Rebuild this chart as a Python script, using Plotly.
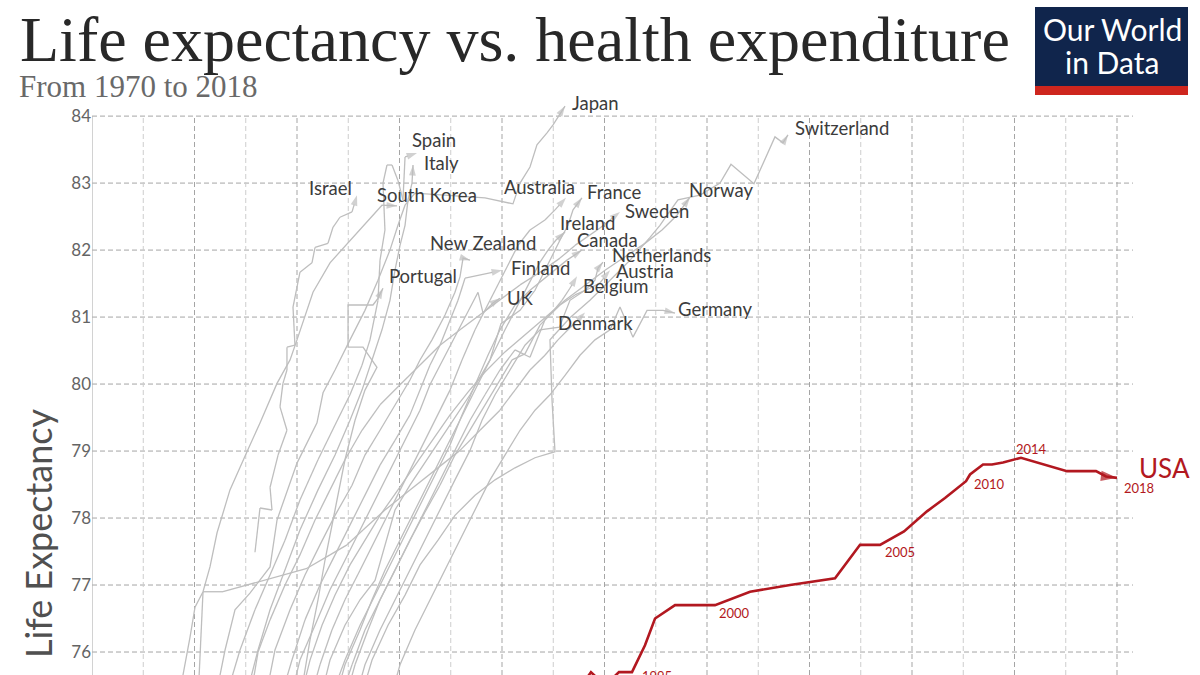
import plotly.graph_objects as go

# ---------------- DATA (health expenditure per capita, int-$; life expectancy, years) ----------------
japan_spend = [1200, 1298, 1395, 1541, 1737, 1805, 2000, 2195, 2254, 2371, 2517, 2663, 2790, 2907, 2985, 3054, 3151, 3493, 3834, 4107, 4176, 4273, 4341, 4439, 4498, 4615]
japan_le = [75.28, 76.03, 76.63, 76.88, 77.27, 77.97, 78.82, 79.42, 79.87, 80.21, 80.66, 81.10, 81.55, 82.00, 82.37, 82.67, 82.85, 82.82, 82.78, 82.69, 83.00, 83.24, 83.57, 83.75, 83.87, 84.15]

switzerland_spend = [2615, 2732, 2888, 3054, 3200, 3376, 3541, 3737, 3932, 4127, 4322, 4517, 4488, 4468, 4663, 4858, 5054, 5249, 5444, 5541, 5610, 5717, 5932, 6127, 6234, 6458, 6663, 6741, 6790]
switzerland_le = [75.28, 75.88, 76.40, 76.85, 77.30, 77.67, 78.04, 78.34, 78.57, 78.75, 78.90, 78.99, 79.76, 80.66, 80.99, 81.25, 81.55, 81.85, 82.19, 82.37, 82.52, 82.75, 82.82, 83.00, 83.28, 82.99, 83.69, 83.60, 83.72]

spain_spend = [1298, 1444, 1590, 1737, 1883, 2029, 2205, 2371, 2517, 2634, 2712, 2790, 2810, 2858, 2839, 2878, 2927, 2985, 3024, 3034, 3054, 3171]
spain_le = [75.28, 76.03, 76.63, 77.15, 77.67, 78.27, 78.87, 79.39, 79.84, 80.28, 80.66, 81.25, 81.85, 82.30, 83.00, 83.27, 83.27, 83.04, 82.79, 82.75, 83.39, 83.45]

italy_spend = [1493, 1620, 1737, 1883, 2029, 2205, 2371, 2517, 2634, 2732, 2829, 2907, 2956, 3005, 3054, 3083, 3122, 3132]
italy_le = [75.28, 76.03, 76.63, 77.22, 77.82, 78.42, 78.94, 79.46, 79.91, 80.36, 80.81, 81.25, 81.70, 82.07, 82.37, 82.75, 83.00, 83.27]

israel_spend = [1590, 1639, 1756, 1737, 1815, 1902, 1834, 1863, 1902, 1902, 1980, 1961, 2029, 2146, 2176, 2302, 2351, 2419, 2537, 2585]
israel_le = [77.49, 78.15, 78.12, 78.46, 78.94, 79.31, 79.66, 80.01, 80.21, 80.55, 80.58, 81.15, 81.67, 81.81, 82.04, 82.10, 82.34, 82.49, 82.57, 82.82]

south_korea_spend = [859, 888, 956, 1005, 1083, 1151, 1220, 1346, 1512, 1639, 1805, 1932, 2000, 2156, 2322, 2585, 2829, 2976]
south_korea_le = [75.28, 75.66, 76.22, 76.67, 76.90, 77.27, 77.78, 78.42, 78.99, 79.42, 80.01, 80.36, 80.66, 81.37, 81.81, 82.25, 82.67, 82.66]

australia_spend = [2127, 2224, 2341, 2468, 2615, 2761, 2907, 3054, 3200, 3346, 3493, 3610, 3737, 3883, 4029, 4156, 4273, 4419, 4517, 4624]
australia_le = [75.28, 75.81, 76.33, 76.78, 77.22, 77.67, 78.12, 78.57, 79.01, 79.46, 79.91, 80.36, 80.81, 81.25, 81.70, 82.07, 82.30, 82.45, 82.60, 82.78]

france_spend = [2371, 2468, 2615, 2732, 2858, 3005, 3151, 3297, 3444, 3590, 3737, 3883, 3990, 4176, 4322, 4419, 4498, 4566, 4644, 4693, 4780]
france_le = [75.28, 75.81, 76.33, 76.78, 77.22, 77.67, 78.12, 78.57, 79.01, 79.46, 79.91, 80.36, 80.90, 81.10, 81.40, 81.70, 81.93, 82.15, 82.37, 82.60, 82.78]

norway_spend = [2029, 2127, 2244, 2371, 2517, 2663, 2810, 2985, 3151, 3317, 3493, 3668, 3834, 4029, 4224, 4419, 4615, 4810, 5005, 5200, 5395, 5561, 5707, 5834]
norway_le = [75.28, 75.88, 76.40, 76.85, 77.30, 77.67, 78.04, 78.42, 78.79, 79.16, 79.54, 79.88, 80.18, 80.48, 80.73, 80.99, 81.25, 81.48, 81.70, 81.90, 82.10, 82.30, 82.52, 82.79]

sweden_spend = [1541, 1620, 1737, 1883, 2029, 2176, 2322, 2468, 2634, 2810, 3005, 3200, 3395, 3590, 3785, 3980, 4176, 4371, 4566, 4712, 4858, 4956, 5054, 5151]
sweden_le = [75.28, 76.00, 76.48, 77.00, 77.45, 77.97, 78.42, 78.87, 79.31, 79.69, 79.99, 80.28, 80.58, 80.81, 81.03, 81.25, 81.48, 81.67, 81.88, 82.07, 82.22, 82.33, 82.45, 82.57]

ireland_spend = [2224, 2322, 2468, 2615, 2761, 2858, 2956, 3102, 3200, 3297, 3493, 3688, 3883, 4029, 4176, 4273, 4371, 4449, 4527, 4615]
ireland_le = [75.28, 75.88, 76.40, 76.78, 77.07, 77.60, 78.12, 78.49, 78.72, 78.94, 79.39, 79.84, 80.36, 80.81, 81.25, 81.55, 81.82, 82.00, 82.15, 82.27]

new_zealand_spend = [1688, 1785, 1932, 2078, 2224, 2371, 2537, 2663, 2810, 2956, 3102, 3200, 3317, 3444, 3541, 3590, 3620, 3688]
new_zealand_le = [75.28, 76.03, 76.63, 77.15, 77.60, 78.04, 78.49, 78.94, 79.31, 79.69, 80.06, 80.36, 80.66, 81.03, 81.37, 81.60, 81.88, 81.85]

canada_spend = [2322, 2468, 2615, 2761, 2907, 3054, 3200, 3346, 3493, 3610, 3737, 3863, 3980, 4127, 4273, 4419, 4517, 4634, 4780]
canada_le = [75.28, 75.88, 76.40, 76.85, 77.30, 77.75, 78.19, 78.64, 79.09, 79.54, 79.99, 80.43, 80.81, 81.18, 81.40, 81.58, 81.70, 81.85, 82.00]

netherlands_spend = [2566, 2663, 2810, 2956, 3102, 3249, 3395, 3541, 3688, 3805, 3932, 4078, 4224, 4371, 4560, 4663, 4810, 4907, 4937, 4985]
netherlands_le = [75.28, 75.81, 76.33, 76.78, 77.22, 77.67, 78.12, 78.57, 79.01, 79.46, 79.84, 80.21, 80.58, 80.81, 80.85, 81.25, 81.40, 81.55, 81.73, 81.82]

portugal_spend = [2029, 2127, 2205, 2273, 2371, 2468, 2566, 2663, 2780, 2644, 2498, 2498, 2741, 2790, 2839]
portugal_le = [75.28, 76.18, 76.78, 77.37, 78.12, 78.87, 79.46, 79.91, 80.25, 80.55, 80.55, 81.18, 81.18, 81.28, 81.43]

finland_spend = [1834, 1951, 2078, 2224, 2371, 2517, 2663, 2810, 2956, 3102, 3200, 3297, 3395, 3493, 3571, 3639, 4000]
finland_le = [75.28, 75.88, 76.48, 77.00, 77.45, 77.90, 78.34, 78.79, 79.16, 79.54, 79.91, 80.28, 80.58, 80.96, 81.25, 81.58, 81.70]

austria_spend = [2468, 2566, 2693, 2810, 2956, 3102, 3249, 3395, 3541, 3688, 3834, 3980, 4127, 4273, 4419, 4566, 4712, 4858, 4956, 5015, 5054]
austria_le = [75.28, 75.81, 76.33, 76.78, 77.22, 77.67, 78.12, 78.57, 79.01, 79.46, 79.84, 80.21, 80.51, 80.40, 80.96, 81.18, 81.33, 81.43, 81.51, 81.63, 81.70]

belgium_spend = [2419, 2537, 2663, 2810, 2956, 3102, 3249, 3395, 3541, 3688, 3834, 3980, 4098, 4224, 4371, 4488, 4585, 4663, 4732]
belgium_le = [75.28, 75.81, 76.33, 76.78, 77.22, 77.67, 78.09, 78.49, 78.94, 79.31, 79.69, 80.06, 80.36, 80.45, 80.88, 81.07, 81.25, 81.43, 81.61]

uk_spend = [1932, 2029, 2176, 2322, 2468, 2615, 2761, 2907, 3054, 3200, 3297, 3395, 3493, 3571, 3659, 3766, 3815, 3912, 3980]
uk_le = [75.28, 75.88, 76.40, 76.93, 77.37, 77.82, 78.27, 78.72, 79.16, 79.61, 79.99, 80.28, 80.58, 80.81, 81.06, 81.37, 81.06, 81.21, 81.28]

denmark_spend = [1034, 1083, 1278, 1512, 1863, 2098, 2322, 2488, 2644, 2858, 3102, 3346, 3590, 3785, 3980, 4127, 4273, 4419, 4546, 4644, 4722, 4810]
denmark_le = [75.28, 76.90, 76.90, 77.00, 77.15, 77.25, 77.45, 77.60, 77.82, 78.12, 78.42, 78.72, 79.01, 79.31, 79.61, 79.91, 80.21, 80.43, 80.66, 80.81, 80.93, 81.07]

germany_spend = [2907, 3005, 3151, 3297, 3444, 3590, 3737, 3883, 4029, 4176, 4322, 4468, 4615, 4761, 4907, 5054, 5151, 5278, 5415, 5571, 5688]
germany_le = [75.28, 75.81, 76.33, 76.78, 77.22, 77.67, 78.12, 78.57, 78.94, 79.31, 79.61, 79.84, 80.13, 80.43, 80.66, 80.81, 81.15, 80.70, 81.10, 81.10, 81.06]

usa_years = list(range(1990, 2019))
usa_spend = [4566, 4732, 4868, 5005, 5141, 5268, 5395, 5493, 5688, 5883, 6078, 6420, 6810, 7249, 7493, 7688,
             7922, 8146, 8322, 8527, 8566, 8693, 8780, 8888, 9063, 9512, 9795, 9893, 10000]
usa_le = [75.2, 75.4, 75.7, 75.5, 75.7, 75.7, 76.1, 76.5, 76.7, 76.7, 76.7, 76.9, 77.0, 77.1, 77.6, 77.6,
          77.8, 78.1, 78.3, 78.55, 78.65, 78.8, 78.8, 78.83, 78.9, 78.7, 78.7, 78.62, 78.6]
usa_label_years = [1995, 2000, 2005, 2010, 2014, 2018]

y_ticks = [76, 77, 78, 79, 80, 81, 82, 83, 84]
x_grid_minor = list(range(500, 10001, 500))

countries = {
    "Japan": (japan_spend, japan_le), "Switzerland": (switzerland_spend, switzerland_le),
    "Spain": (spain_spend, spain_le), "Italy": (italy_spend, italy_le),
    "Israel": (israel_spend, israel_le), "South Korea": (south_korea_spend, south_korea_le),
    "Australia": (australia_spend, australia_le), "France": (france_spend, france_le),
    "Norway": (norway_spend, norway_le), "Sweden": (sweden_spend, sweden_le),
    "Ireland": (ireland_spend, ireland_le), "New Zealand": (new_zealand_spend, new_zealand_le),
    "Canada": (canada_spend, canada_le), "Netherlands": (netherlands_spend, netherlands_le),
    "Portugal": (portugal_spend, portugal_le), "Finland": (finland_spend, finland_le),
    "Austria": (austria_spend, austria_le), "Belgium": (belgium_spend, belgium_le),
    "UK": (uk_spend, uk_le), "Denmark": (denmark_spend, denmark_le), "Germany": (germany_spend, germany_le),
}

# ---------------- STYLE / LAYOUT ----------------
W, H = 1200, 675
ML, MR, MT, MB = 92, 67, 96, 0
PW, PH = W - ML - MR, H - MT - MB
Y_MIN, Y_MAX = 75.657, 84.3
X_MAX = 10156

def px_x(px):
    return (px - ML) / PW

def px_y(py):
    return (H - MB - py) / PH

GREY = "rgb(190,190,190)"
RED = "rgb(178,24,32)"
LABEL_FONT = "Lato, 'Open Sans', sans-serif"

# label offsets (xshift, yshift, xanchor) relative to each line's end arrow
label_pos = {
    "Japan": (5, 3, "left"), "Switzerland": (5, 7, "left"), "Spain": (-7, 13, "left"),
    "Italy": (9, 2, "left"), "Israel": (-3, 7, "right"), "South Korea": (-22, 11, "left"),
    "Australia": (-64, 11, "left"), "France": (3, 6, "left"), "Norway": (-3, 7, "left"),
    "Sweden": (3, 1, "left"), "Ireland": (-7, 9, "left"), "Canada": (-7, 10, "left"),
    "New Zealand": (-42, 17, "left"), "Netherlands": (7, 7, "left"), "Finland": (7, 2, "left"),
    "Austria": (4, -1, "left"), "Portugal": (4, 12, "left"), "Belgium": (4, -10, "left"),
    "UK": (5, 0, "left"), "Germany": (1, 4, "left"), "Denmark": (-29, -11, "left"),
}
usa_year_pos = {1995: (8, -4, "left"), 2000: (2, -8, "left"), 2005: (3, -7, "left"),
                2010: (2, -9, "left"), 2014: (11, 9, "center"), 2018: (5, -10, "left")}

fig = go.Figure()

for name, (xs, ys) in countries.items():
    n = len(xs)
    fig.add_trace(go.Scatter(
        x=xs, y=ys, mode="lines+markers",
        line=dict(color=GREY, width=1.3),
        marker=dict(symbol="arrow", angleref="previous", size=[0] * (n - 1) + [11],
                    color=GREY, line=dict(width=0)),
        hoverinfo="skip", showlegend=False, cliponaxis=False))

n = len(usa_spend)
fig.add_trace(go.Scatter(
    x=usa_spend, y=usa_le, mode="lines+markers",
    line=dict(color=RED, width=2.6),
    marker=dict(symbol="arrow", angleref="previous", size=[0] * (n - 1) + [17],
                color=RED, line=dict(width=0)),
    hoverinfo="skip", showlegend=False, cliponaxis=False))

annotations = []
for name, (xs, ys) in countries.items():
    dx, dy, anc = label_pos[name]
    annotations.append(dict(x=xs[-1], y=ys[-1], xref="x", yref="y", text=name, showarrow=False,
                            xanchor=anc, yanchor="middle", xshift=dx, yshift=dy,
                            font=dict(family=LABEL_FONT, size=18.5, color="rgb(60,60,60)")))
for yr in usa_label_years:
    i = usa_years.index(yr)
    dx, dy, anc = usa_year_pos[yr]
    annotations.append(dict(x=usa_spend[i], y=usa_le[i], xref="x", yref="y", text=str(yr), showarrow=False,
                            xanchor=anc, yanchor="middle", xshift=dx, yshift=dy,
                            font=dict(family=LABEL_FONT, size=13, color=RED)))
annotations.append(dict(x=usa_spend[-1], y=usa_le[-1], xref="x", yref="y", text="USA", showarrow=False,
                        xanchor="left", yanchor="middle", xshift=20, yshift=10,
                        font=dict(family=LABEL_FONT, size=26, color=RED)))

# titles
annotations.append(dict(x=px_x(18), y=px_y(40), xref="paper", yref="paper", showarrow=False,
                        text="Life expectancy vs. health expenditure", xanchor="left", yanchor="middle",
                        font=dict(family="Liberation Serif, 'DejaVu Serif', serif", size=64, color="rgb(40,40,40)")))
annotations.append(dict(x=px_x(17), y=px_y(86), xref="paper", yref="paper", showarrow=False,
                        text="From 1970 to 2018", xanchor="left", yanchor="middle",
                        font=dict(family="Liberation Serif, 'DejaVu Serif', serif", size=31, color="rgb(105,105,105)")))
annotations.append(dict(x=px_x(38), y=px_y(533), xref="paper", yref="paper", showarrow=False,
                        text="Life Expectancy", textangle=-90, xanchor="center", yanchor="middle",
                        font=dict(family=LABEL_FONT, size=36, color="rgb(80,80,80)")))
# logo text
annotations.append(dict(x=px_x(1112), y=px_y(29), xref="paper", yref="paper", showarrow=False,
                        text="Our World", xanchor="center", yanchor="middle",
                        font=dict(family=LABEL_FONT, size=30, color="white")))
annotations.append(dict(x=px_x(1112), y=px_y(62), xref="paper", yref="paper", showarrow=False,
                        text="in Data", xanchor="center", yanchor="middle",
                        font=dict(family=LABEL_FONT, size=30, color="white")))

shapes = []
for v in x_grid_minor:
    major = v % 1000 == 0
    shapes.append(dict(type="line", xref="x", yref="y", x0=v, x1=v, y0=Y_MIN, y1=84, layer="below",
                       line=dict(color="rgb(165,165,165)" if major else "rgb(205,205,205)", width=1, dash="5px,3px")))
for t in y_ticks:
    shapes.append(dict(type="line", xref="paper", yref="y", x0=0, x1=1, y0=t, y1=t, layer="below",
                       line=dict(color="rgb(165,165,165)", width=1, dash="5px,3px")))
shapes.append(dict(type="line", xref="x", yref="y", x0=0, x1=0, y0=Y_MIN, y1=84, layer="below",
                   line=dict(color="rgb(180,180,180)", width=1.2)))
# logo boxes
shapes.append(dict(type="rect", xref="paper", yref="paper", x0=px_x(1035), x1=px_x(1188), y0=px_y(95), y1=px_y(7),
                   fillcolor="rgb(16,37,76)", line=dict(width=0), layer="above"))
shapes.append(dict(type="rect", xref="paper", yref="paper", x0=px_x(1035), x1=px_x(1188), y0=px_y(95), y1=px_y(86),
                   fillcolor="rgb(206,38,30)", line=dict(width=0), layer="above"))

fig.update_layout(
    width=W, height=H, autosize=False,
    margin=dict(l=ML, r=MR, t=MT, b=MB, pad=0),
    paper_bgcolor="white", plot_bgcolor="white",
    xaxis=dict(range=[0, X_MAX], showgrid=False, zeroline=False, showticklabels=False, showline=False, ticks=""),
    yaxis=dict(range=[Y_MIN, Y_MAX], tickvals=y_ticks, showgrid=False, zeroline=False, showline=False, ticks="",
               tickfont=dict(family=LABEL_FONT, size=17, color="rgb(100,100,100)")),
    annotations=annotations, shapes=shapes, showlegend=False,
)

fig.write_html("out.html")
